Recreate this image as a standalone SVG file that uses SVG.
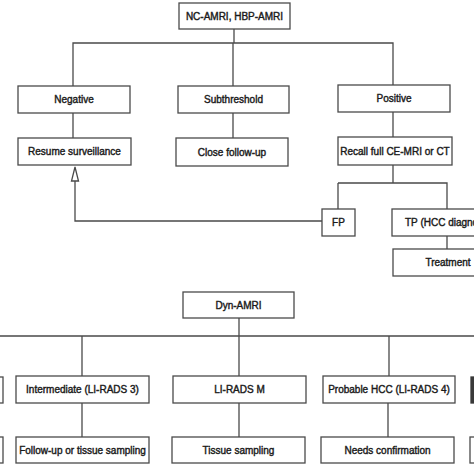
<svg xmlns="http://www.w3.org/2000/svg" width="474" height="474" viewBox="0 0 474 474">
<style>
.b{fill:#fff;stroke:#4a4a4a;stroke-width:1.3}
.t{font-family:"Liberation Sans",Arial,sans-serif;font-size:10px;fill:#1a1a1a;text-anchor:middle;stroke:#1a1a1a;stroke-width:0.4}
.c{fill:none;stroke:#4a4a4a;stroke-width:1.3}
</style>
<rect width="474" height="474" fill="#fff"/>
<g id="connectors">
<path class="c" d="M234 29V43M73 86V43H393V85M233 43V86M73 113V138M233 113V138M393 112V137"/>
<path class="c" d="M393 165V183M338 183H447V209M338 183V209M447 236V249"/>
<path class="c" d="M322 221H75V181"/>
<polygon points="75,167 71.5,181 78.5,181" fill="#fff" stroke="#4a4a4a" stroke-width="1.3"/>
<path class="c" d="M239 318V376M0 336H474M82 336V376M389 336V376M82 403V437M239 403V437M388 403V437"/>
</g>
<g id="n-top"><rect class="b" x="179" y="3" width="111" height="26"/><text class="t" x="234.5" y="20">NC-AMRI, HBP-AMRI</text></g>
<g id="n-neg"><rect class="b" x="18" y="86" width="112" height="27"/><text class="t" x="74" y="103">Negative</text></g>
<g id="n-sub"><rect class="b" x="178" y="86" width="111" height="27"/><text class="t" x="233.5" y="103">Subthreshold</text></g>
<g id="n-pos"><rect class="b" x="338" y="85" width="112" height="27"/><text class="t" x="394" y="102">Positive</text></g>
<g id="n-resume"><rect class="b" x="18" y="138" width="113" height="27"/><text class="t" x="74.5" y="155">Resume surveillance</text></g>
<g id="n-close"><rect class="b" x="176" y="138" width="112" height="28"/><text class="t" x="232" y="155.5">Close follow-up</text></g>
<g id="n-recall"><rect class="b" x="338" y="137" width="114" height="28"/><text class="t" x="395" y="155">Recall full CE-MRI or CT</text></g>
<g id="n-fp"><rect class="b" x="322" y="209" width="33" height="27"/><text class="t" x="338.5" y="226">FP</text></g>
<g id="n-tp"><rect class="b" x="392" y="209" width="100" height="27"/><text class="t" x="405" y="226" style="text-anchor:start">TP (HCC diagnosis)</text></g>
<g id="n-treat"><rect class="b" x="393" y="249" width="100" height="27"/><text class="t" x="448" y="266">Treatment</text></g>
<g id="n-dyn"><rect class="b" x="183" y="292" width="111" height="26"/><text class="t" x="238.5" y="309">Dyn-AMRI</text></g>
<g id="n-left1"><rect class="b" x="-20" y="377" width="23" height="26"/></g>
<g id="n-inter"><rect class="b" x="16" y="376" width="133" height="27"/><text class="t" x="82.5" y="393">Intermediate (LI-RADS 3)</text></g>
<g id="n-lrm"><rect class="b" x="173" y="376" width="133" height="27"/><text class="t" x="239.5" y="393">LI-RADS M</text></g>
<g id="n-prob"><rect class="b" x="323" y="376" width="132" height="27"/><text class="t" x="389" y="393">Probable HCC (LI-RADS 4)</text></g>
<g id="n-right1"><rect x="471" y="377" width="20" height="26" fill="#3a3a3a" stroke="#3a3a3a" stroke-width="1.3"/></g>
<g id="n-left2"><rect class="b" x="-20" y="437" width="23" height="26"/></g>
<g id="n-fu"><rect class="b" x="16" y="437" width="133" height="26"/><text class="t" x="82.5" y="454">Follow-up or tissue sampling</text></g>
<g id="n-ts"><rect class="b" x="172" y="437" width="133" height="26"/><text class="t" x="238.5" y="454">Tissue sampling</text></g>
<g id="n-nc"><rect class="b" x="321" y="437" width="133" height="26"/><text class="t" x="387.5" y="454">Needs confirmation</text></g>
<g id="n-right2"><rect class="b" x="470" y="437" width="20" height="26"/></g>
</svg>
